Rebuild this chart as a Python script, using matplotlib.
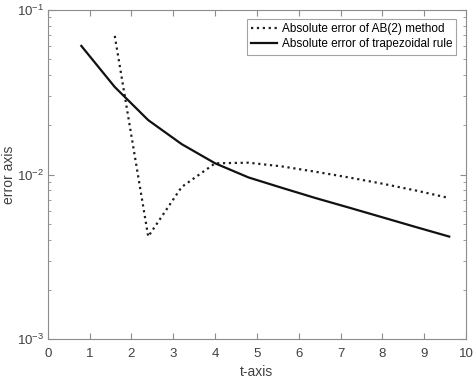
"""Error of AB(2) vs trapezoidal rule on a log axis."""

import matplotlib.pyplot as plt
from matplotlib.ticker import LogLocator, NullFormatter

plt.rcParams["font.family"] = ["Liberation Sans", "DejaVu Sans"]

t_ab2 = [1.6, 2.4, 3.2, 4.0, 4.8, 5.6, 6.4, 7.2, 8.0, 8.8, 9.6]
err_ab2 = [0.0695, 0.0042, 0.0084, 0.0117, 0.0118, 0.0112, 0.0104,
           0.0096, 0.0088, 0.0080, 0.0072]

t_trap = [0.8, 1.6, 2.4, 3.2, 4.0, 4.8, 5.6, 6.4, 7.2, 8.0, 8.8, 9.6]
err_trap = [0.0604, 0.034, 0.0214, 0.0153, 0.0117, 0.0096, 0.0083,
            0.0072, 0.0063, 0.0055, 0.0048, 0.0042]

x_ticks = list(range(0, 11))

axis_col = "#8c8c8c"
text_col = "#404040"

fig = plt.figure(figsize=(4.74, 3.79), dpi=100)
ax = fig.add_axes([0.101, 0.105, 0.882, 0.869])

ax.plot(t_ab2, err_ab2, color="#202020", linestyle=":", linewidth=1.6,
        label="Absolute error of AB(2) method")
ax.plot(t_trap, err_trap, color="#111111", linestyle="-", linewidth=1.6,
        label="Absolute error of trapezoidal rule")

ax.set_yscale("log")
ax.set_xlim(0, 10)
ax.set_ylim(1e-3, 1e-1)
ax.set_xticks(x_ticks)
ax.yaxis.set_major_locator(LogLocator(base=10, numticks=5))
ax.yaxis.set_minor_locator(LogLocator(base=10, subs=range(2, 10), numticks=20))
ax.yaxis.set_minor_formatter(NullFormatter())

ax.tick_params(which="both", direction="in", top=True, right=True,
               color=axis_col, labelcolor=text_col, labelsize=9.5)
ax.tick_params(axis="x", pad=6)
ax.tick_params(axis="y", pad=3)
ax.tick_params(which="major", length=4)
ax.tick_params(which="minor", length=2)
for s in ax.spines.values():
    s.set_color(axis_col)
    s.set_linewidth(0.8)

ax.set_xlabel("t-axis", color=text_col, fontsize=10)
ax.set_ylabel("error axis", color=text_col, fontsize=10)
ax.xaxis.set_label_coords(0.5, -0.077)
ax.yaxis.set_label_coords(-0.077, 0.5)

leg = ax.legend(loc="upper right", fontsize=8.5, fancybox=False,
                edgecolor=axis_col, borderpad=0.35, handlelength=2.2,
                labelspacing=0.25, borderaxespad=0.8, handletextpad=0.4)
leg.get_frame().set_linewidth(0.8)

fig.savefig("out.png", dpi=100)
